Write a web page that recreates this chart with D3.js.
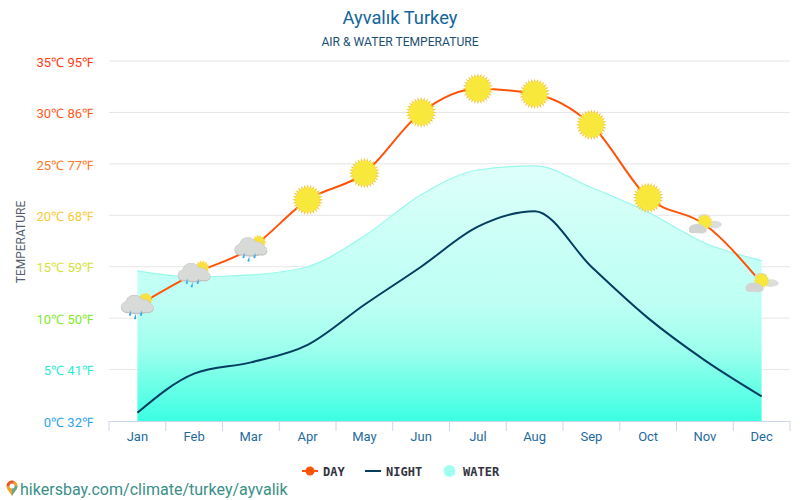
<!DOCTYPE html>
<html>
<head>
<meta charset="utf-8">
<script src="https://d3js.org/d3.v7.min.js"></script>
<style>
  body { margin: 0; background: #fff; }
  text { font-family: Roboto, sans-serif; }
</style>
</head>
<body>
<div id="chart"></div>
<script>
// values
var months = ["Jan", "Feb", "Mar", "Apr", "May", "Jun", "Jul", "Aug", "Sep", "Oct", "Nov", "Dec"];
var dayTemp = [11.2, 14.3, 16.8, 21.5, 24.1, 30.0, 32.3, 31.8, 28.8, 21.7, 19.1, 13.4];
var nightTemp = [0.8, 4.6, 5.7, 7.4, 11.3, 15.0, 18.9, 20.4, 15.0, 10.0, 5.9, 2.4];
var waterTemp = [14.6, 14.0, 14.2, 15.0, 18.0, 22.0, 24.4, 24.8, 22.7, 20.3, 17.3, 15.6];
var weather = ["rain", "rain", "rain", "sun", "sun", "sun", "sun", "sun", "sun", "sun", "partly", "partly"];

var yTicks = [0, 5, 10, 15, 20, 25, 30, 35];
var yLabels = ["0℃ 32℉", "5℃ 41℉", "10℃ 50℉", "15℃ 59℉", "20℃ 68℉", "25℃ 77℉", "30℃ 86℉", "35℃ 95℉"];
var yColors = ["#2ea3ea", "#2cecd0", "#7fe92e", "#d6e23a", "#f8c93a", "#ff7a26", "#ff5a1c", "#ff3a10"];

var width = 800, height = 500;

var svg = d3.select("#chart").append("svg")
    .attr("width", width)
    .attr("height", height)
    .style("display", "block");

var x = d3.scaleBand().domain(months).range([109, 790]);
var y = d3.scaleLinear().domain([0, 35]).range([421, 61]);

function cx(i) { return x(months[i]) + x.bandwidth() / 2; }

var defs = svg.append("defs");

var grad = defs.append("linearGradient")
    .attr("id", "waterFill")
    .attr("gradientUnits", "userSpaceOnUse")
    .attr("x1", 0).attr("x2", 0)
    .attr("y1", y(25)).attr("y2", y(0));
grad.append("stop").attr("offset", "0%").attr("stop-color", "#dcfffa");
grad.append("stop").attr("offset", "30%").attr("stop-color", "#c6fff6");
grad.append("stop").attr("offset", "55%").attr("stop-color", "#b8fff3");
grad.append("stop").attr("offset", "72%").attr("stop-color", "#96ffec");
grad.append("stop").attr("offset", "100%").attr("stop-color", "#2dffe0");

// starburst for the sun icons
function burst(g, r1, r2, n, fill) {
    var pts = [];
    for (var i = 0; i < n * 2; i++) {
        var a = i * Math.PI / n, r = i % 2 ? r2 : r1;
        pts.push([r * Math.cos(a), r * Math.sin(a)].join(","));
    }
    g.append("polygon").attr("points", pts.join(" ")).attr("fill", fill);
}

var sunIcon = defs.append("g").attr("id", "iconSun");
burst(sunIcon, 15.5, 11.5, 28, "#f6c93c");
sunIcon.append("circle").attr("r", 12.3).attr("fill", "#f8e83c");

function cloud(g, parts, fill) {
    parts.forEach(function (p) {
        g.append("ellipse")
            .attr("cx", p[0]).attr("cy", p[1])
            .attr("rx", p[2]).attr("ry", p[3])
            .attr("fill", fill);
    });
}

var rainIcon = defs.append("g").attr("id", "iconRain");
var rainSun = rainIcon.append("g").attr("transform", "translate(8,-6)");
burst(rainSun, 7.5, 5.5, 14, "#f6d84a");
rainSun.append("circle").attr("r", 5.8).attr("fill", "#f8e040");
cloud(rainIcon, [[-10, 1.5, 6.5, 6], [-3, -2.5, 9, 8.5], [6, 0.5, 8, 7], [11, 2.5, 5.5, 5], [0, 3, 13, 5.5]], "#c0c3c1");
cloud(rainIcon, [[-10, 1, 6, 5.2], [-3, -3, 8.4, 7.6], [6, 0, 7.4, 6.2], [11, 2, 5, 4.2], [0, 2.2, 12.5, 4.8]], "#d8dad8");
[[-7, 7.5], [-2, 11], [4, 7.5]].forEach(function (p) {
    rainIcon.append("path")
        .attr("d", "M" + (p[0] + 0.5) + "," + (p[1] - 3) + "l-2,4.5a1.2,1.2 0 0 0 2.2,0.4z")
        .attr("fill", "#3ea8e6");
});

var partlyIcon = defs.append("g").attr("id", "iconPartly");
cloud(partlyIcon, [[-1, -7, 6, 3.5], [9, 0, 8, 3.8]], "#dcdedc");
var partlySun = partlyIcon.append("g").attr("transform", "translate(0,-2.5)");
burst(partlySun, 7.8, 6, 16, "#f6d84a");
partlySun.append("circle").attr("r", 6.3).attr("fill", "#f8e83c");
cloud(partlyIcon, [[-8, 4, 8, 4.6], [-3.5, 5.5, 5.5, 3.6], [-12, 5.5, 4, 3.2]], "#d2d4d2");

// y axis and grid
var yAxis = d3.axisLeft(y)
    .tickValues(yTicks)
    .tickSize(0)
    .tickPadding(16)
    .tickFormat(function (d) { return yLabels[yTicks.indexOf(d)]; });

var yG = svg.append("g").attr("transform", "translate(109,1)").call(yAxis);
yG.select(".domain").remove();
yG.selectAll("text")
    .style("font-family", "Roboto, sans-serif")
    .style("font-size", "13px")
    .attr("fill", function (d) { return yColors[yTicks.indexOf(d)]; });

svg.append("g").selectAll("line")
    .data(yTicks.slice(1))
    .enter().append("line")
    .attr("x1", 109).attr("x2", 790)
    .attr("y1", function (d) { return y(d); })
    .attr("y2", function (d) { return y(d); })
    .attr("stroke", "#e6e6e6");

// water area
var waterArea = d3.area()
    .x(function (d, i) { return cx(i); })
    .y0(y(0))
    .y1(function (d) { return y(d); })
    .curve(d3.curveMonotoneX);

var lineOf = d3.line()
    .x(function (d, i) { return cx(i); })
    .y(function (d) { return y(d); })
    .curve(d3.curveMonotoneX);

svg.append("path")
    .attr("d", waterArea(waterTemp))
    .attr("fill", "url(#waterFill)")
    .attr("fill-opacity", 0.93);

svg.append("path")
    .attr("d", lineOf(waterTemp))
    .attr("fill", "none")
    .attr("stroke", "#98f8ec")
    .attr("stroke-width", 1.2);

svg.append("path")
    .attr("d", lineOf(nightTemp))
    .attr("fill", "none")
    .attr("stroke", "#033e5e")
    .attr("stroke-width", 2);

svg.append("path")
    .attr("d", lineOf(dayTemp))
    .attr("fill", "none")
    .attr("stroke", "#ff5308")
    .attr("stroke-width", 2);

// weather icons on the day line
var iconIds = { sun: "#iconSun", rain: "#iconRain", partly: "#iconPartly" };
svg.append("g").selectAll("use")
    .data(dayTemp)
    .enter().append("use")
    .attr("href", function (d, i) { return iconIds[weather[i]]; })
    .attr("x", function (d, i) { return cx(i); })
    .attr("y", function (d) { return y(d); });

// x axis, ticks sit on the band edges
var xAxis = d3.axisBottom(x).tickSize(0).tickPadding(11);
var xG = svg.append("g").attr("transform", "translate(0,421)").call(xAxis);
xG.select(".domain").attr("stroke", "#ccd6eb");
xG.selectAll("text")
    .style("font-family", "Roboto, sans-serif")
    .style("font-size", "13px")
    .attr("fill", "#1f6a9e");

svg.append("g").selectAll("line")
    .data(months.concat(["end"]))
    .enter().append("line")
    .attr("x1", function (d, i) { return 109 + i * x.step(); })
    .attr("x2", function (d, i) { return 109 + i * x.step(); })
    .attr("y1", 421).attr("y2", 431)
    .attr("stroke", "#ccd6eb");

// titles
svg.append("text")
    .attr("x", 400).attr("y", 24)
    .attr("text-anchor", "middle")
    .attr("font-size", "18.3px")
    .attr("fill", "#11659c")
    .text("Ayvalık Turkey");

svg.append("text")
    .attr("x", 400).attr("y", 46)
    .attr("text-anchor", "middle")
    .attr("font-size", "12.1px")
    .attr("fill", "#1d4f72")
    .text("AIR & WATER TEMPERATURE");

svg.append("text")
    .attr("transform", "translate(25,242) rotate(-90)")
    .attr("text-anchor", "middle")
    .attr("font-size", "12px")
    .attr("fill", "#555f70")
    .text("TEMPERATURE");

// legend
var legend = svg.append("g");
legend.append("line").attr("x1", 302).attr("x2", 318).attr("y1", 471).attr("y2", 471)
    .attr("stroke", "#ff5308").attr("stroke-width", 2);
legend.append("circle").attr("cx", 310).attr("cy", 471).attr("r", 4.5).attr("fill", "#ff5308");
legend.append("line").attr("x1", 365).attr("x2", 381).attr("y1", 471).attr("y2", 471)
    .attr("stroke", "#033e5e").attr("stroke-width", 2);
legend.append("circle").attr("cx", 449.5).attr("cy", 471).attr("r", 6).attr("fill", "#a0fff0");

var legendNames = ["DAY", "NIGHT", "WATER"];
var legendX = [323, 386, 463];
legend.selectAll("text")
    .data(legendNames)
    .enter().append("text")
    .attr("x", function (d, i) { return legendX[i]; })
    .attr("y", 475.5)
    .style("font-family", "'DejaVu Sans Mono', monospace")
    .style("font-weight", "bold")
    .style("font-size", "12px")
    .attr("fill", "#333340")
    .text(function (d) { return d; });

// footer with the location pin
var pin = svg.append("g").attr("transform", "translate(12,488)");
pin.append("path")
    .attr("d", "M0,8 C-2,4 -5.5,1.5 -5.5,-2 A5.5,5.5 0 0 1 5.5,-2 C5.5,1.5 2,4 0,8z")
    .attr("fill", "#f0a02c");
pin.append("path")
    .attr("d", "M-5.5,-2 A5.5,5.5 0 0 1 2,-7 L0,-2z")
    .attr("fill", "#e8542c");
pin.append("path")
    .attr("d", "M0,8 C2,4 5.5,1.5 5.5,-2 L0,-2z")
    .attr("fill", "#6aa58a");
pin.append("circle").attr("cy", -2).attr("r", 2.5).attr("fill", "#fff");

svg.append("text")
    .attr("x", 20).attr("y", 495)
    .attr("font-size", "16.05px")
    .attr("fill", "#3a8f88")
    .text("hikersbay.com/climate/turkey/ayvalik");
</script>
</body>
</html>
